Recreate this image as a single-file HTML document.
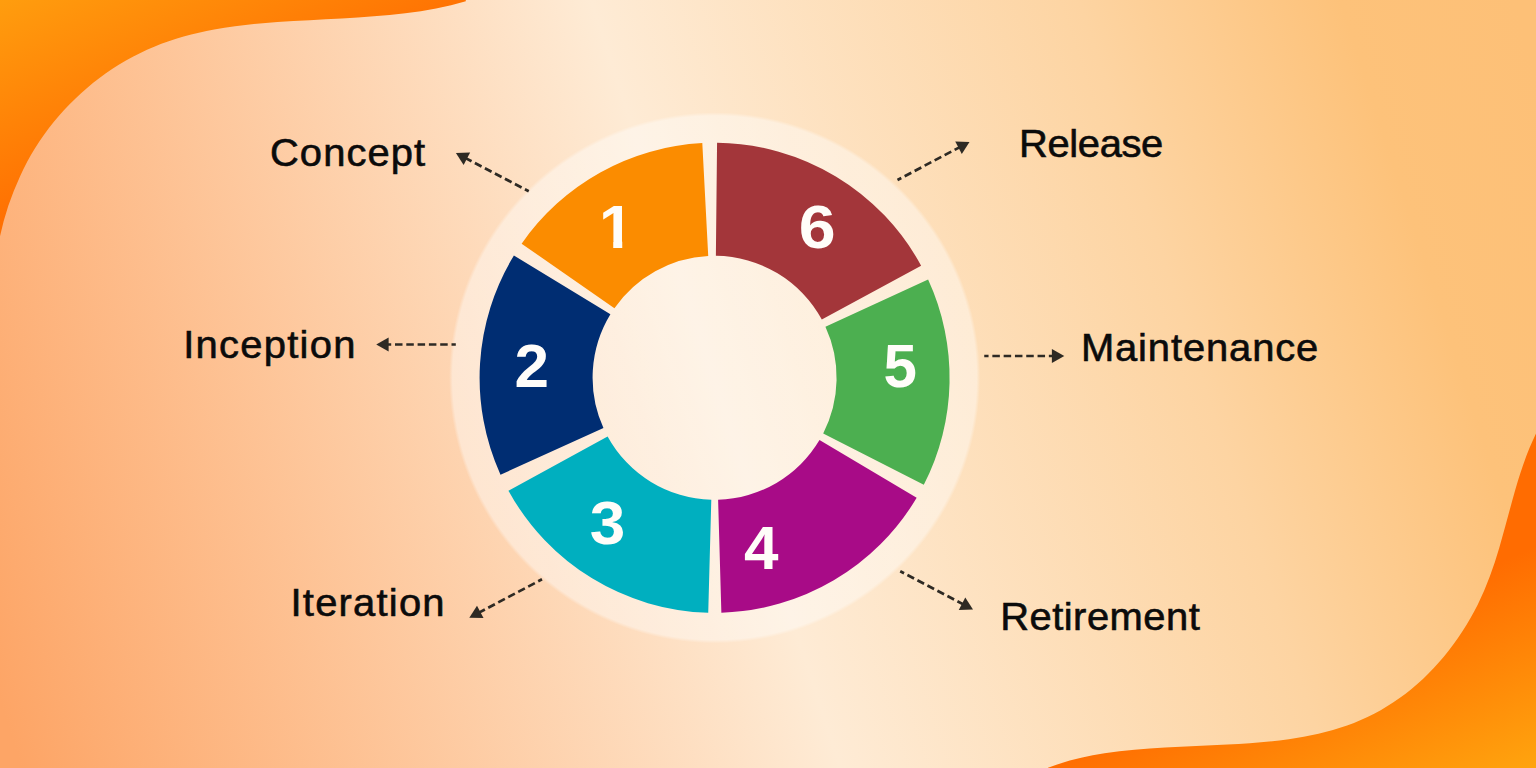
<!DOCTYPE html>
<html lang="en">
<head>
<meta charset="utf-8">
<title>Agile Software Development Life Cycle</title>
<style>
html,body{margin:0;padding:0;background:#fde2c4;}
body{width:1536px;height:768px;overflow:hidden;position:relative;font-family:"Liberation Sans",sans-serif;}
svg{position:absolute;left:0;top:0;display:block;}
.lab text{font-family:"Liberation Sans",sans-serif;font-size:38.4px;fill:#0b0b0b;stroke:#0b0b0b;stroke-width:0.6px;}
.dig text{font-family:"Liberation Sans",sans-serif;font-weight:bold;font-size:62px;fill:#fffdf9;stroke:#fffdf9;stroke-width:0px;stroke-linejoin:round;text-anchor:middle;}
.arr line{stroke:#2e2a24;stroke-width:2.7;stroke-dasharray:7.5 3.8;stroke-dashoffset:3.2;}
.arr polygon{fill:#2e2a24;}
</style>
</head>
<body>
<svg width="1536" height="768" viewBox="0 0 1536 768">
<defs>
<linearGradient id="bg" gradientUnits="userSpaceOnUse" x1="-20" y1="640" x2="1556" y2="128">
<stop offset="0" stop-color="#fda566"/>
<stop offset="0.47" stop-color="#feebd5"/>
<stop offset="0.75" stop-color="#fdd4a2"/>
<stop offset="0.9" stop-color="#fdc27a"/>
<stop offset="1" stop-color="#fdc077"/>
</linearGradient>
<linearGradient id="blobA" gradientUnits="userSpaceOnUse" x1="0" y1="0" x2="82" y2="186">
<stop offset="0" stop-color="#ff9d0e"/>
<stop offset="1" stop-color="#ff7002"/>
</linearGradient>
<linearGradient id="blobB" gradientUnits="userSpaceOnUse" x1="1536" y1="768" x2="1454" y2="582">
<stop offset="0" stop-color="#ffa40e"/>
<stop offset="1" stop-color="#ff6c01"/>
</linearGradient>
<radialGradient id="ringg" gradientUnits="userSpaceOnUse" cx="714.6" cy="377.8" r="265.5">
<stop offset="0" stop-color="#fff" stop-opacity="0.42"/>
<stop offset="0.9868" stop-color="#fff" stop-opacity="0.42"/>
<stop offset="1" stop-color="#fff" stop-opacity="0"/>
</radialGradient>
</defs>
<rect width="1536" height="768" fill="url(#bg)"/>
<path fill="url(#blobA)" d="M-2 -2H465.8L465.8 1.2C446.4 7.1 426.1 10.8 405.3 13.3C384.5 15.9 363.3 17.3 341.8 18.4C320.4 19.6 298.8 20.4 277.5 22.0C256.1 23.5 234.9 25.8 214.2 29.6C193.6 33.4 173.4 38.8 154.2 46.7C134.9 54.6 116.5 65.1 99.5 77.9C82.6 90.6 67.1 105.5 53.7 122.1C40.3 138.6 29.0 156.9 20.1 176.2C11.1 195.5 4.4 215.8 0.0 236.3H-2Z"/>
<path fill="url(#blobB)" d="M1538 770H1048.0L1048.0 767.8C1065.9 760.9 1084.8 756.3 1104.5 753.3C1124.2 750.2 1144.5 748.5 1165.1 747.4C1185.7 746.3 1206.6 745.7 1227.4 744.6C1248.1 743.6 1268.7 742.1 1288.8 739.2C1308.9 736.4 1328.5 732.1 1347.1 725.6C1365.6 719.0 1383.3 709.9 1399.6 698.1C1415.9 686.4 1430.8 672.2 1444.0 656.4C1457.1 640.5 1468.5 623.0 1477.7 604.7C1486.9 586.3 1493.6 567.1 1499.3 547.7C1505.0 528.2 1509.9 508.5 1515.5 489.1C1521.1 469.7 1527.6 450.6 1536.6 432.3H1538Z"/>
<circle cx="714.6" cy="377.8" r="265.5" fill="url(#ringg)"/>
<g>
<path fill="#fb8c00" d="M521.63 243.68A235.0 235.0 0 0 1 702.30 143.12L708.22 255.97A122.0 122.0 0 0 0 614.42 308.17Z"/>
<path fill="#a3363a" d="M717.06 142.81A235.0 235.0 0 0 1 921.12 265.67L821.82 319.59A122.0 122.0 0 0 0 715.88 255.81Z"/>
<path fill="#4caf50" d="M928.10 279.60A235.0 235.0 0 0 1 923.80 484.85L823.21 433.38A122.0 122.0 0 0 0 825.44 326.82Z"/>
<path fill="#a80b87" d="M916.67 497.78A235.0 235.0 0 0 1 721.37 612.70L718.11 499.75A122.0 122.0 0 0 0 819.50 440.09Z"/>
<path fill="#00afbf" d="M708.24 612.71A235.0 235.0 0 0 1 508.47 490.65L607.59 436.39A122.0 122.0 0 0 0 711.30 499.76Z"/>
<path fill="#002d72" d="M500.50 474.69A235.0 235.0 0 0 1 513.91 255.54L610.41 314.33A122.0 122.0 0 0 0 603.45 428.10Z"/>
</g>
<g class="arr">
<line x1="528.75" y1="191.20" x2="465.11" y2="157.83"/>
<polygon points="455.90,153.00 470.13,152.56 463.63,164.96"/>
<line x1="455.80" y1="344.50" x2="386.65" y2="344.50"/>
<polygon points="376.25,344.50 388.65,337.50 388.65,351.50"/>
<line x1="542.00" y1="579.30" x2="478.50" y2="612.84"/>
<polygon points="469.30,617.70 477.00,605.72 483.53,618.10"/>
<line x1="897.50" y1="180.00" x2="960.30" y2="146.85"/>
<polygon points="969.50,142.00 961.80,153.98 955.27,141.60"/>
<line x1="984.25" y1="356.00" x2="1053.90" y2="356.00"/>
<polygon points="1064.30,356.00 1051.90,363.00 1051.90,349.00"/>
<line x1="900.25" y1="571.25" x2="963.79" y2="604.66"/>
<polygon points="973.00,609.50 958.77,609.93 965.28,597.53"/>
</g>
<g class="dig">
<clipPath id="c1"><path d="M594.01 186.00H661.01V241.00H622.24V251.00H613.23V241.00H594.01Z"/></clipPath>
<text x="616.25" y="248.00" clip-path="url(#c1)">1</text>
<text x="531.70" y="386.70">2</text>
<text transform="translate(607.48 543.75) scale(1.03 1)">3</text>
<text x="761.25" y="568.75">4</text>
<text transform="translate(900.12 386.50) scale(0.97 1)">5</text>
<text transform="translate(817.10 248.25) scale(1.07 1)">6</text>
</g>
<g class="lab">
<text transform="translate(269.95 166.20) scale(1.04 1)" textLength="149.28" lengthAdjust="spacing">Concept</text>
<text transform="translate(183.15 358.30) scale(1.04 1)" textLength="165.58" lengthAdjust="spacing">Inception</text>
<text transform="translate(290.55 616.25) scale(1.04 1)" textLength="148.08" lengthAdjust="spacing">Iteration</text>
<text transform="translate(1019.00 156.60) scale(1.04 1)" textLength="138.75" lengthAdjust="spacing">Release</text>
<text transform="translate(1080.90 361.10) scale(1.04 1)" textLength="228.27" lengthAdjust="spacing">Maintenance</text>
<text transform="translate(1000.20 629.80) scale(1.04 1)" textLength="191.92" lengthAdjust="spacing">Retirement</text>
</g>
</svg>
</body>
</html>
